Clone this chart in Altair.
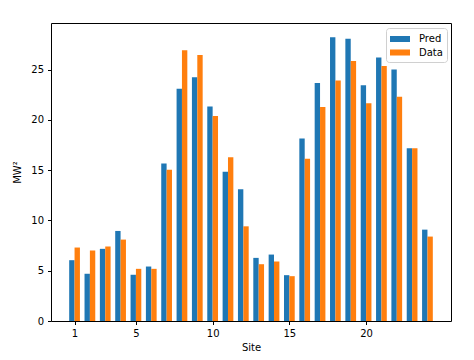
import altair as alt
import pandas as pd

sites = list(range(1, 25))
pred = [6.05, 4.70, 7.18, 8.96, 4.60, 5.42, 15.67, 23.12, 24.24, 21.33, 14.85, 13.10,
        6.28, 6.61, 4.56, 18.15, 23.68, 28.24, 28.08, 23.45, 26.22, 25.03, 17.20, 9.09]
data_vals = [7.31, 7.01, 7.41, 8.10, 5.19, 5.19, 15.05, 26.95, 26.46, 20.40, 16.30, 9.42,
             5.65, 5.92, 4.46, 16.14, 21.30, 23.94, 25.86, 21.66, 25.36, 22.32, 17.20, 8.40]
series = ["Pred", "Data"]
colors = ["#1f77b4", "#ff7f0e"]
bar_w = 0.35

rows = []
for s, p, d in zip(sites, pred, data_vals):
    rows.append({"site": s, "series": "Pred", "value": p, "off0": -bar_w, "off1": 0.0})
    rows.append({"site": s, "series": "Data", "value": d, "off0": 0.0, "off1": bar_w})
df = pd.DataFrame(rows)

font = "DejaVu Sans"

chart = alt.Chart(df).transform_calculate(
    x0="datum.site + datum.off0", x1="datum.site + datum.off1"
).mark_rect().encode(
    x=alt.X("x0:Q", title="Site",
            scale=alt.Scale(domain=[-0.535, 25.535], nice=False, zero=False),
            axis=alt.Axis(values=[1, 5, 10, 15, 20], grid=False, domain=False,
                          tickColor="black", tickSize=3.5, labelColor="black",
                          labelFont=font, labelFontSize=10, titleFont=font,
                          titleFontSize=10, titleFontWeight="normal", titleColor="black",
                          labelPadding=4, titlePadding=4)),
    x2="x1:Q",
    y=alt.Y("value:Q", title="MW²",
            scale=alt.Scale(domain=[0, 29.65], nice=False, zero=True),
            axis=alt.Axis(values=[0, 5, 10, 15, 20, 25], grid=False, domain=False,
                          tickColor="black", tickSize=3.5, labelColor="black",
                          labelFont=font, labelFontSize=10, titleFont=font,
                          titleFontSize=10, titleFontWeight="normal", titleColor="black",
                          labelPadding=4, titlePadding=8)),
    y2=alt.datum(0),
    color=alt.Color("series:N", sort=series,
                    scale=alt.Scale(domain=series, range=colors),
                    legend=alt.Legend(title=None, orient="none", legendX=335, legendY=5,
                                      fillColor="white", strokeColor="#d0d0d0",
                                      cornerRadius=3, padding=4,
                                      symbolType="M-1,-0.43H1.86V0.43H-1Z", symbolSize=196,
                                      symbolStrokeWidth=0, labelFont=font,
                                      labelFontSize=10, labelColor="black",
                                      rowPadding=1.5, labelOffset=15)),
).properties(
    width=400, height=298,
    padding={"left": 43, "top": 15, "right": 15, "bottom": 31},
    autosize=alt.AutoSizeParams(type="none"),
).configure_view(stroke="black", strokeWidth=1)

chart.save("out.html", embed_options={"renderer": "svg", "actions": False})
